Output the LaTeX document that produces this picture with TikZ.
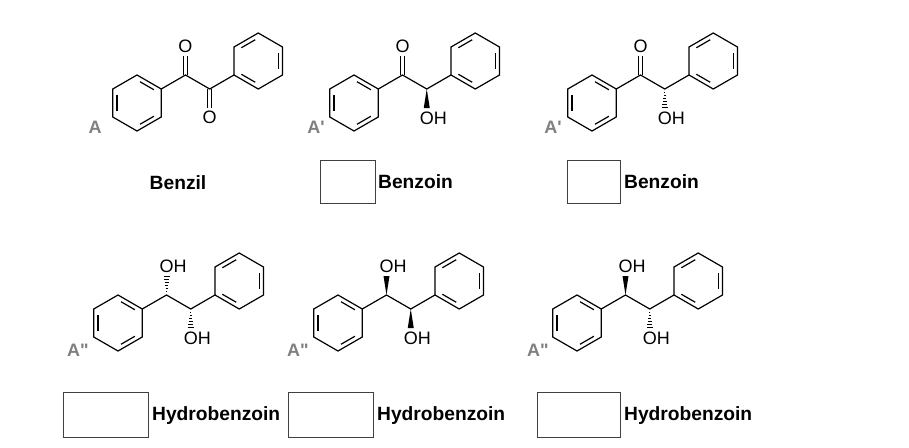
\documentclass[tikz,border=0pt]{standalone}
\usepackage{fontspec}
\setmainfont{Liberation Sans}
\usetikzlibrary{calc}
\tikzset{
 bond/.style={line width=1.2pt,line join=miter},
 atomlbl/.style={inner sep=0pt,font=\fontsize{18}{18}\selectfont},
 rlab/.style={inner sep=0pt,font=\bfseries\fontsize{18}{18}\selectfont,text=black!50},
 cpdname/.style={inner sep=0pt,font=\bfseries\fontsize{19.2}{20}\selectfont,anchor=west},
 ansbox/.style={draw=black!75,line width=1pt}
}
\newcommand\inn[3]{\draw[bond,shorten <=3.5pt,shorten >=3.5pt] ($(#1)+(#2:23)$) -- ($(#1)+(#3:23)$);}
\newcommand\skel[2]{%
 \coordinate (c) at (#1,-#2);
 \coordinate (a1) at ($(c)+(30:28)$);
 \coordinate (C1) at ($(a1)+(30:28)$);
 \coordinate (C2) at ($(C1)+(-30:28)$);
 \coordinate (a2) at ($(C2)+(30:28)$);
 \coordinate (d) at ($(a2)+(30:28)$);
 \draw[bond] ($(c)+(90:28)$) -- ($(c)+(30:28)$) -- ($(c)+(-30:28)$) -- ($(c)+(-90:28)$) -- ($(c)+(-150:28)$) -- ($(c)+(150:28)$) -- cycle;
 \draw[bond] ($(d)+(90:28)$) -- ($(d)+(30:28)$) -- ($(d)+(-30:28)$) -- ($(d)+(-90:28)$) -- ($(d)+(-150:28)$) -- ($(d)+(150:28)$) -- cycle;
 \inn{c}{150}{210}\inn{c}{90}{30}\inn{c}{-30}{-90}
 \inn{d}{90}{150}\inn{d}{30}{-30}\inn{d}{210}{270}
 \draw[bond] (a1) -- (C1) -- (C2) -- (a2);
}
\newcommand\carb[2]{%
 \draw[bond] ($(#1)+(-1.9,0)$) -- ++(0,#2*19);
 \draw[bond] ($(#1)+(1.9,0)$) -- ++(0,#2*19);
 \node[atomlbl] at ($(#1)+(0,#2*28.5)$) {O};
}
\newcommand\ohlab[2]{\node[atomlbl,anchor=west] at ($(#1)+(-7,#2*29)$) {OH};}
\newcommand\wdg[2]{%
 \fill ($(#1)$) -- ($(#1)+(-3,#2*19)$) -- ($(#1)+(3,#2*19)$) -- cycle;
 \ohlab{#1}{#2}}
\newcommand\hsh[2]{%
 \foreach \k in {1,...,6}{\draw[line width=0.9pt] ($(#1)+(-0.5*\k,#2*3.1*\k)$) -- ++(\k,0);}
 \ohlab{#1}{#2}}
\begin{document}
\begin{tikzpicture}[x=1pt,y=1pt]
\useasboundingbox (0,0) rectangle (909,-447);
% row 1
\skel{137}{103}\carb{C1}{1}\carb{C2}{-1}
\node[rlab] (A1) at (95,-127) {A};
\node[cpdname,anchor=center] (n1) at (178,-183) {Benzil};
\skel{354}{103}\carb{C1}{1}\wdg{C2}{-1}
\node[rlab] (A2) at (316,-127) {A\textquotesingle};
\draw[ansbox] (320,-160) rectangle (375,-203);
\node[cpdname] (n2) at (378,-181.5) {Benzoin};
\skel{592}{103}\carb{C1}{1}\hsh{C2}{-1}
\node[rlab] (A3) at (553,-127) {A\textquotesingle};
\draw[ansbox] (567,-160) rectangle (620,-203);
\node[cpdname] (n3) at (624,-181.5) {Benzoin};
% row 2
\skel{118}{323}\hsh{C1}{1}\hsh{C2}{-1}
\node[rlab] (B1) at (78,-350) {A\textquotedbl};
\draw[ansbox] (63,-392) rectangle (148,-437);
\node[cpdname] (m1) at (152,-416) {Hydrobenzoin};
\skel{338}{323}\wdg{C1}{1}\wdg{C2}{-1}
\node[rlab] (B2) at (298,-350) {A\textquotedbl};
\draw[ansbox] (288,-392) rectangle (373,-437);
\node[cpdname] (m2) at (377,-416) {Hydrobenzoin};
\skel{577}{323}\wdg{C1}{1}\hsh{C2}{-1}
\node[rlab] (B3) at (538,-350) {A\textquotedbl};
\draw[ansbox] (537,-392) rectangle (620,-437);
\node[cpdname] (m3) at (624,-416) {Hydrobenzoin};
\end{tikzpicture}
\end{document}
